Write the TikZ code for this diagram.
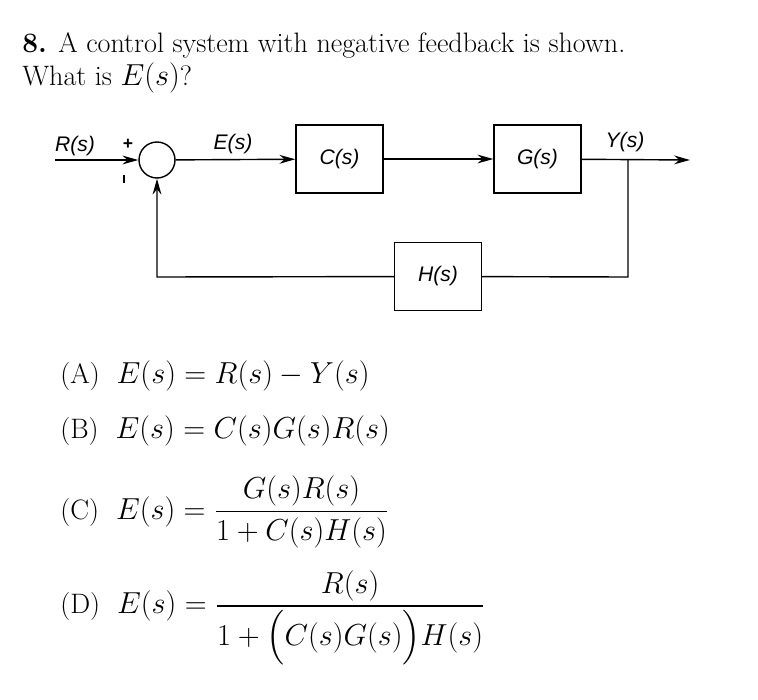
\documentclass[tikz,border=0pt]{standalone}
\usepackage{amsmath}
\usepackage{fontspec}
\newfontfamily\lab{Liberation Sans}
\usetikzlibrary{arrows.meta}
\begin{document}
\begin{tikzpicture}[x=0.02cm,y=-0.02cm,
  blk/.style={draw,line width=0.8pt,minimum width=1.74cm,minimum height=1.36cm,font=\lab\itshape\fontsize{12}{14}\selectfont},
  sig/.style={line width=0.8pt,-{Stealth[length=9pt,width=5pt]}},
  ln/.style={line width=0.8pt},
  lb/.style={font=\lab\itshape\fontsize{12}{14}\selectfont},
  tx/.style={anchor=base west,font=\fontsize{16}{19}\selectfont,inner sep=0pt}]
\useasboundingbox (0,0) rectangle (758,700);
\node[tx] (t1) at (22,52) {\textbf{8.} A control system with negative feedback is shown.};
\node[tx] (t2) at (22,85) {What is $E(s)$?};
\node[draw,circle,line width=0.8pt,minimum size=0.72cm,inner sep=0pt] (sum) at (157,160) {};
\node[blk] (C) at (339.5,159) {C(s)};
\node[blk] (G) at (537.5,159) {G(s)};
\node[blk] (H) at (438,276.5) {H(s)};
\coordinate (in) at (55,160);
\coordinate (out) at (690,160);
\coordinate (br) at (628,160);
\coordinate (c1) at (628,277);
\coordinate (c2) at (157,277);
\draw[sig] (in) -- (sum);
\draw[sig] (sum) -- (C);
\draw[sig] (C) -- (G);
\draw[sig] (G) -- (out);
\draw[ln] (br) -- (c1) -- (H);
\draw[sig] (H) -- (c2) -- (sum.south);
\node[lb] (R) at (75,146) {R(s)};
\node[lb] (E) at (233,144) {E(s)};
\node[lb] (Y) at (625,142) {Y(s)};
\node[font=\lab\bfseries\fontsize{10}{12}\selectfont] (p) at (128,144) {+};
\node[font=\lab\bfseries\fontsize{10}{12}\selectfont] (m) at (124,179) {\rule[2pt]{1.2pt}{0pt}\rule{0pt}{0pt}};
\draw[ln] (m.center) ++(0,-4) -- ++(0,8);
\node[tx] (A) at (60,383) {(A)\ \ $E(s)=R(s)-Y(s)$};
\node[tx] (B) at (60,438) {(B)\ \ $E(s)=C(s)G(s)R(s)$};
\node[tx,anchor=west] (Cc) at (60,512) {(C)\ \ $E(s)=\dfrac{G(s)R(s)}{1+C(s)H(s)}$};
\node[tx,anchor=west] (D) at (60,615) {(D)\ \ $E(s)=\dfrac{\rule{0pt}{16pt}R(s)}{1+\Bigl(C(s)G(s)\Bigr)H(s)}$};
\end{tikzpicture}
\end{document}
